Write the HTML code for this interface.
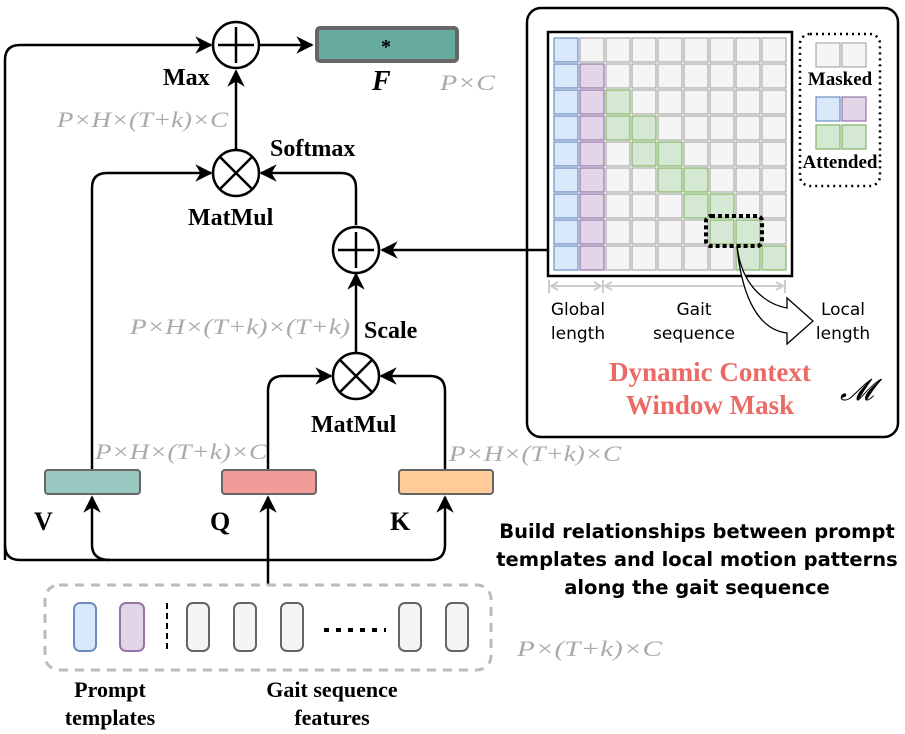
<!DOCTYPE html>
<html><head><meta charset="utf-8"><style>
body{margin:0;background:#fff}
svg{display:block}
.g{fill:#f5f5f5;stroke:#aaa;stroke-width:1.2}
.b{fill:#dae8fc;stroke:#6c8ebf;stroke-width:1.2}
.p{fill:#e1d5e7;stroke:#9673a6;stroke-width:1.2}
.n{fill:#d5e8d4;stroke:#82b366;stroke-width:1.2}
.ln{fill:none;stroke:#000;stroke-width:2.5}
.lb{font-family:"Liberation Serif",serif;font-weight:bold}
.mt{font-family:"Liberation Serif",serif;font-style:italic;font-size:22px;fill:#aaa}
.cm{font-family:"DejaVu Sans",sans-serif;font-size:17px}
</style></head><body>
<svg width="905" height="734" viewBox="0 0 905 734" xmlns="http://www.w3.org/2000/svg">
<defs>
<marker id="a" viewBox="0 0 10 10" refX="9" refY="5" markerWidth="7" markerHeight="7" orient="auto"><path d="M0,0 L10,5 L0,10 L3,5 z" fill="#000"/></marker>
</defs>
<rect x="527" y="8" width="371" height="429" rx="14" fill="#fff" stroke="#000" stroke-width="2.5"/>
<rect x="548" y="32" width="244" height="244" fill="#fff" stroke="#000" stroke-width="2.5"/>
<g>
<rect class="b" x="554" y="38" width="24" height="24"/><rect class="g" x="580" y="38" width="24" height="24"/><rect class="g" x="606" y="38" width="24" height="24"/><rect class="g" x="632" y="38" width="24" height="24"/><rect class="g" x="658" y="38" width="24" height="24"/><rect class="g" x="684" y="38" width="24" height="24"/><rect class="g" x="710" y="38" width="24" height="24"/><rect class="g" x="736" y="38" width="24" height="24"/><rect class="g" x="762" y="38" width="24" height="24"/>
<rect class="b" x="554" y="64" width="24" height="24"/><rect class="p" x="580" y="64" width="24" height="24"/><rect class="g" x="606" y="64" width="24" height="24"/><rect class="g" x="632" y="64" width="24" height="24"/><rect class="g" x="658" y="64" width="24" height="24"/><rect class="g" x="684" y="64" width="24" height="24"/><rect class="g" x="710" y="64" width="24" height="24"/><rect class="g" x="736" y="64" width="24" height="24"/><rect class="g" x="762" y="64" width="24" height="24"/>
<rect class="b" x="554" y="90" width="24" height="24"/><rect class="p" x="580" y="90" width="24" height="24"/><rect class="n" x="606" y="90" width="24" height="24"/><rect class="g" x="632" y="90" width="24" height="24"/><rect class="g" x="658" y="90" width="24" height="24"/><rect class="g" x="684" y="90" width="24" height="24"/><rect class="g" x="710" y="90" width="24" height="24"/><rect class="g" x="736" y="90" width="24" height="24"/><rect class="g" x="762" y="90" width="24" height="24"/>
<rect class="b" x="554" y="116" width="24" height="24"/><rect class="p" x="580" y="116" width="24" height="24"/><rect class="n" x="606" y="116" width="24" height="24"/><rect class="n" x="632" y="116" width="24" height="24"/><rect class="g" x="658" y="116" width="24" height="24"/><rect class="g" x="684" y="116" width="24" height="24"/><rect class="g" x="710" y="116" width="24" height="24"/><rect class="g" x="736" y="116" width="24" height="24"/><rect class="g" x="762" y="116" width="24" height="24"/>
<rect class="b" x="554" y="142" width="24" height="24"/><rect class="p" x="580" y="142" width="24" height="24"/><rect class="g" x="606" y="142" width="24" height="24"/><rect class="n" x="632" y="142" width="24" height="24"/><rect class="n" x="658" y="142" width="24" height="24"/><rect class="g" x="684" y="142" width="24" height="24"/><rect class="g" x="710" y="142" width="24" height="24"/><rect class="g" x="736" y="142" width="24" height="24"/><rect class="g" x="762" y="142" width="24" height="24"/>
<rect class="b" x="554" y="168" width="24" height="24"/><rect class="p" x="580" y="168" width="24" height="24"/><rect class="g" x="606" y="168" width="24" height="24"/><rect class="g" x="632" y="168" width="24" height="24"/><rect class="n" x="658" y="168" width="24" height="24"/><rect class="n" x="684" y="168" width="24" height="24"/><rect class="g" x="710" y="168" width="24" height="24"/><rect class="g" x="736" y="168" width="24" height="24"/><rect class="g" x="762" y="168" width="24" height="24"/>
<rect class="b" x="554" y="194" width="24" height="24"/><rect class="p" x="580" y="194" width="24" height="24"/><rect class="g" x="606" y="194" width="24" height="24"/><rect class="g" x="632" y="194" width="24" height="24"/><rect class="g" x="658" y="194" width="24" height="24"/><rect class="n" x="684" y="194" width="24" height="24"/><rect class="n" x="710" y="194" width="24" height="24"/><rect class="g" x="736" y="194" width="24" height="24"/><rect class="g" x="762" y="194" width="24" height="24"/>
<rect class="b" x="554" y="220" width="24" height="24"/><rect class="p" x="580" y="220" width="24" height="24"/><rect class="g" x="606" y="220" width="24" height="24"/><rect class="g" x="632" y="220" width="24" height="24"/><rect class="g" x="658" y="220" width="24" height="24"/><rect class="g" x="684" y="220" width="24" height="24"/><rect class="n" x="710" y="220" width="24" height="24"/><rect class="n" x="736" y="220" width="24" height="24"/><rect class="g" x="762" y="220" width="24" height="24"/>
<rect class="b" x="554" y="246" width="24" height="24"/><rect class="p" x="580" y="246" width="24" height="24"/><rect class="g" x="606" y="246" width="24" height="24"/><rect class="g" x="632" y="246" width="24" height="24"/><rect class="g" x="658" y="246" width="24" height="24"/><rect class="g" x="684" y="246" width="24" height="24"/><rect class="g" x="710" y="246" width="24" height="24"/><rect class="n" x="736" y="246" width="24" height="24"/><rect class="n" x="762" y="246" width="24" height="24"/>
</g>
<rect x="706" y="216" width="56" height="30" rx="5" fill="none" stroke="#000" stroke-width="4" stroke-dasharray="4,3"/>
<rect x="800" y="34" width="80" height="152" rx="10" fill="none" stroke="#000" stroke-width="2.5" stroke-dasharray="2,4"/>
<rect class="g" x="816" y="43" width="24" height="24"/><rect class="g" x="842" y="43" width="24" height="24"/>
<text x="840" y="85" text-anchor="middle" class="lb" style="font-size:19px">Masked</text>
<rect class="b" x="816" y="97" width="24" height="24"/><rect class="p" x="842" y="97" width="24" height="24"/>
<rect class="n" x="816" y="125" width="24" height="24"/><rect class="n" x="842" y="125" width="24" height="24"/>
<text x="840" y="168" text-anchor="middle" class="lb" style="font-size:19px">Attended</text>
<g stroke="#ccc" stroke-width="2" fill="none">
<path d="M549,280 V293 M603,280 V293 M785,280 V293"/>
<path d="M551,286 H601 M605,286 H783"/>
<path d="M558,282 L551,286 L558,290 M594,282 L601,286 L594,290 M612,282 L605,286 L612,290 M776,282 L783,286 L776,290"/>
</g>
<text class="cm" x="578" y="315" text-anchor="middle">Global</text>
<text class="cm" x="578" y="339" text-anchor="middle">length</text>
<text class="cm" x="694" y="315" text-anchor="middle">Gait</text>
<text class="cm" x="694" y="339" text-anchor="middle">sequence</text>
<text class="cm" x="843" y="315" text-anchor="middle">Local</text>
<text class="cm" x="843" y="339" text-anchor="middle">length</text>
<path d="M737,246 C742,290 770,305 787,308 L787,298 L813,321 L787,344 L787,333 C760,330 742,300 737,246 Z" fill="#fff" stroke="#000" stroke-width="1.3"/>
<text x="710" y="381" text-anchor="middle" class="lb" style="font-size:27px" fill="#ea6b66">Dynamic  Context</text>
<text x="710" y="414" text-anchor="middle" class="lb" style="font-size:27px" fill="#ea6b66">Window Mask</text>
<text x="840" y="400" font-family="DejaVu Serif,serif" font-style="italic" font-size="30">𝓜</text>
<path class="ln" d="M5,560 V60 Q5,45 20,45 H211" marker-end="url(#a)"/>
<path class="ln" d="M5,545 Q5,560 20,560 H430 Q445,560 445,545 V497" marker-end="url(#a)"/>
<path class="ln" d="M110,560 Q92,560 92,545 V497" marker-end="url(#a)"/>
<path class="ln" d="M268,585 V497" marker-end="url(#a)"/>
<path class="ln" d="M259,45 H312" marker-end="url(#a)"/>
<path class="ln" d="M236,150 V71" marker-end="url(#a)"/>
<path class="ln" d="M92,470 V188 Q92,173 107,173 H211" marker-end="url(#a)"/>
<path class="ln" d="M356,225 V188 Q356,173 341,173 H261" marker-end="url(#a)"/>
<path class="ln" d="M548,250 H382" marker-end="url(#a)"/>
<path class="ln" d="M356,353 V274" marker-end="url(#a)"/>
<path class="ln" d="M268,470 V391 Q268,376 283,376 H331" marker-end="url(#a)"/>
<path class="ln" d="M445,470 V391 Q445,376 430,376 H381" marker-end="url(#a)"/>
<g fill="#fff" stroke="#000" stroke-width="2.5">
<circle cx="236" cy="45" r="23"/><path d="M236,27 V63 M218,45 H254"/>
<circle cx="236" cy="173" r="23"/><path d="M220,157 L252,189 M252,157 L220,189"/>
<circle cx="356" cy="250" r="23"/><path d="M356,232 V268 M338,250 H374"/>
<circle cx="356" cy="376" r="23"/><path d="M340,360 L372,392 M372,360 L340,392"/>
</g>
<rect x="317" y="28" width="140" height="33" rx="3" fill="#67ab9f" stroke="#666" stroke-width="4"/>
<text x="386" y="53" text-anchor="middle" class="lb" style="font-size:20px">*</text>
<text x="163" y="85" class="lb" style="font-size:24px">Max</text>
<text x="372" y="90" class="lb" style="font-size:28px;font-style:italic">F</text>
<text x="440" y="90" class="mt" textLength="55" lengthAdjust="spacingAndGlyphs">P×C</text>
<text x="57" y="127" class="mt" textLength="171" lengthAdjust="spacingAndGlyphs">P×H×(T+k)×C</text>
<text x="270" y="156" class="lb" style="font-size:24px">Softmax</text>
<text x="188" y="225" class="lb" style="font-size:24px">MatMul</text>
<text x="130" y="334" class="mt" textLength="220" lengthAdjust="spacingAndGlyphs">P×H×(T+k)×(T+k)</text>
<text x="364" y="338" class="lb" style="font-size:24px">Scale</text>
<text x="311" y="432" class="lb" style="font-size:24px">MatMul</text>
<text x="95" y="459" class="mt" textLength="172" lengthAdjust="spacingAndGlyphs">P×H×(T+k)×C</text>
<text x="449" y="461" class="mt" textLength="172" lengthAdjust="spacingAndGlyphs">P×H×(T+k)×C</text>
<rect x="45" y="470" width="95" height="24" rx="3" fill="#9ac7bf" stroke="#666" stroke-width="2"/>
<rect x="222" y="470" width="94" height="24" rx="3" fill="#f19c99" stroke="#666" stroke-width="2"/>
<rect x="399" y="470" width="94" height="24" rx="3" fill="#ffcc99" stroke="#666" stroke-width="2"/>
<text x="34" y="530" class="lb" style="font-size:26px">V</text>
<text x="210" y="530" class="lb" style="font-size:26px">Q</text>
<text x="390" y="530" class="lb" style="font-size:26px">K</text>
<rect x="45" y="585" width="446" height="85" rx="14" fill="none" stroke="#bbb" stroke-width="3" stroke-dasharray="9,7"/>
<rect x="74" y="603" width="22" height="48" rx="6" fill="#dae8fc" stroke="#6c8ebf" stroke-width="2"/>
<rect x="120" y="603" width="24" height="48" rx="6" fill="#e1d5e7" stroke="#9673a6" stroke-width="2"/>
<path d="M167,603 V652" stroke="#000" stroke-width="2" stroke-dasharray="6,4"/>
<g fill="#f5f5f5" stroke="#666" stroke-width="2">
<rect x="187" y="603" width="22" height="48" rx="6"/><rect x="234" y="603" width="22" height="48" rx="6"/><rect x="281" y="603" width="22" height="48" rx="6"/><rect x="399" y="603" width="22" height="48" rx="6"/><rect x="446" y="603" width="22" height="48" rx="6"/>
</g>
<path d="M324,630 H386" stroke="#000" stroke-width="4" stroke-dasharray="5,7"/>
<text x="517" y="656" class="mt" textLength="145" lengthAdjust="spacingAndGlyphs">P×(T+k)×C</text>
<text x="110" y="697" text-anchor="middle" class="lb" style="font-size:22px">Prompt</text>
<text x="110" y="725" text-anchor="middle" class="lb" style="font-size:22px">templates</text>
<text x="332" y="697" text-anchor="middle" class="lb" style="font-size:22px">Gait sequence</text>
<text x="332" y="725" text-anchor="middle" class="lb" style="font-size:22px">features</text>
<g font-family="DejaVu Sans,sans-serif" font-weight="bold" font-size="19.5" text-anchor="middle">
<text x="697" y="538">Build relationships between prompt</text>
<text x="697" y="566">templates and local motion patterns</text>
<text x="697" y="594">along the gait sequence</text>
</g>
</svg>
</body></html>
